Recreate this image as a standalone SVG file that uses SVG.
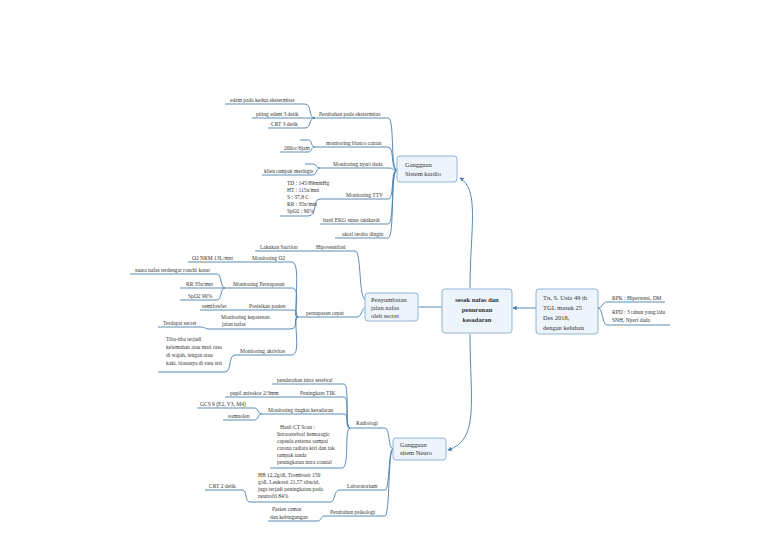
<svg xmlns="http://www.w3.org/2000/svg" width="768" height="543" viewBox="0 0 768 543">
<style>
text{font-family:"Liberation Serif",serif;font-size:5.5px;fill:#333}
.b{fill:#edf4fb;stroke:#8fb4d6;stroke-width:1}
.c{fill:none;stroke:#4a7fab;stroke-width:0.9}
.t{font-size:6.5px}
</style>
<defs><marker id="a" viewBox="0 0 6 6" refX="5" refY="3" markerWidth="5" markerHeight="5" orient="auto"><path d="M0,0L6,3L0,6z" fill="#4a7fab"/></marker></defs>
<rect width="768" height="543" fill="#fff"/>
<g id="connectors">
<path class="c" d="M470,288C470,230 480,190 460,178" marker-end="url(#a)"/>
<path class="c" d="M470,334C470,400 480,440 448,450" marker-end="url(#a)"/>
<path class="c" d="M536,308H513" marker-end="url(#a)"/>
<path class="c" d="M442,307H419"/>
<path class="c" d="M598,308C603,308 602,302 607,302H665M598,308C603,308 602,325 607,325H670"/>
<path class="c" d="M397,170C390,170 395,118 388,118H315M397,170C390,170 395,147 388,147H315M397,170C390,170 395,168 388,168H320M397,170C390,170 395,199 388,199H320M397,170C390,170 395,224 388,224H320M397,170C390,170 395,238 388,238H335"/>
<path class="c" d="M315,118C308,118 312,104 305,104H225M315,118H252M315,118C308,118 312,128 305,128H268"/>
<path class="c" d="M315,147C310,147 313,140 308,140H300M315,147C310,147 313,152 308,152H280"/>
<path class="c" d="M320,168C315,168 318,164 312,164H305M320,168C315,168 318,175 312,175H262"/>
<path class="c" d="M320,199C312,199 318,216 308,216H280"/>
<path class="c" d="M366,300C358,300 362,251 355,251H310"/>
<path class="c" d="M310,251H255"/>
<path class="c" d="M366,307C362,307 362,317 357,317H298"/>
<path class="c" d="M298,317C292,317 302,262 292,262H245M298,317C292,317 302,288 292,288H225M298,317C292,317 300,310 292,310H240M298,317C292,317 300,329 290,329H210M298,317C292,317 302,355 292,355H235"/>
<path class="c" d="M245,262H188"/>
<path class="c" d="M225,288C220,288 222,274 217,274H130M225,288H180M225,288C220,288 222,300 217,300H180"/>
<path class="c" d="M240,310H200"/>
<path class="c" d="M210,329C204,329 206,327 200,327H158"/>
<path class="c" d="M235,355C228,355 232,372 225,372H158"/>
<path class="c" d="M393,449C388,449 390,428 385,428H350M393,449C388,449 390,490 385,490H340M393,449C388,449 390,516 385,516H325"/>
<path class="c" d="M350,428C344,428 350,384 344,384H272M350,428C344,428 350,397 344,397H295M350,428C344,428 350,414 344,414H262M350,428C344,428 350,468 342,468H270"/>
<path class="c" d="M295,397H225"/>
<path class="c" d="M262,414C257,414 259,408 254,408H197M262,414C257,414 259,420 254,420H223"/>
<path class="c" d="M340,490C333,490 336,502 330,502H250"/>
<path class="c" d="M250,502C244,502 248,490 242,490H205"/>
<path class="c" d="M325,516C320,516 322,521 317,521H268"/>
</g>
<g id="center"><rect class="b" x="442" y="289" width="70" height="44" rx="3" stroke-width="1.8"/>
<text class="t" x="477" y="302" text-anchor="middle" font-weight="bold">sesak nafas dan</text>
<text class="t" x="477" y="312" text-anchor="middle" font-weight="bold">penurunan</text>
<text class="t" x="477" y="322" text-anchor="middle" font-weight="bold">kesadaran</text></g>
<g id="patient"><rect class="b" x="536" y="289" width="62" height="45" rx="3"/>
<text class="t" x="543" y="300">Tn, S. Usia 49 th</text><text class="t" x="543" y="310">TGL masuk 25</text><text class="t" x="543" y="320">Des 2018,</text><text class="t" x="543" y="330">dengan keluhan</text>
<text x="612" y="300">RPK : Hipertensi, DM</text><text x="612" y="314">RPD : 3 tahun yang lalu</text><text x="612" y="322">SNH, Nyeri dada</text></g>
<g id="kardio"><rect class="b" x="397" y="156" width="60" height="26" rx="3"/>
<text class="t" x="405" y="167">Gangguan</text><text class="t" x="405" y="176">Sistem kardio</text>
<text x="319" y="116">Perubahan pada ekstermitas</text>
<text x="230" y="102">edem pada kedua ekstermitas</text><text x="256" y="116">piting edem 3 detik</text><text x="271" y="126">CRT 3 detik</text>
<text x="326" y="145">monitoring blanco cairan</text><text x="284" y="150">200cc/6jam</text>
<text x="333" y="166">Monitoring nyari dada</text><text x="264" y="173">klien tampak meringis</text>
<text x="346" y="197">Monitoring TTV</text>
<text x="287" y="185">TD : 145/89mmHg</text><text x="287" y="192">HT : 115x/mnt</text><text x="287" y="199">S   : 37,8 C</text><text x="287" y="206">RR : 35x/mnt</text><text x="287" y="213">SpO2 : 90%</text>
<text x="323" y="222">hasil EKG sinus takikardi</text><text x="342" y="236">akral teraba dingin</text></g>
<g id="airway"><rect class="b" x="365" y="293" width="53" height="28" rx="3"/>
<text class="t" x="371" y="302">Penyumbatan</text><text class="t" x="371" y="310">jalan nafas</text><text class="t" x="371" y="318">oleh secret</text>
<text x="316" y="249">Hipoventilasi</text><text x="260" y="249">Lakukan Suction</text>
<text x="306" y="315">pernapasan cepat</text>
<text x="252" y="260">Monitoring O2</text><text x="192" y="260">O2 NRM 13L/mnt</text>
<text x="233" y="286">Monitoring Pernapasan</text><text x="135" y="272">suara nafas terdengar ronchi kasar</text><text x="186" y="286">RR 35x/mnt</text><text x="188" y="298">SpO2 90%</text>
<text x="249" y="308">Posisikan pasien</text><text x="202" y="308">semifowler</text>
<text x="221" y="319">Monitoring kepatenan</text><text x="222" y="326">jalan nafas</text><text x="163" y="325">Terdapat secret</text>
<text x="240" y="353">Monitoring aktivitas</text>
<text x="166" y="341">Tiba-tiba terjadi</text><text x="166" y="349">kelemahan atau mati rasa</text><text x="166" y="357">di wajah, lengan atau</text><text x="166" y="365">kaki, biasanya di satu sisi</text></g>
<g id="neuro"><rect class="b" x="393" y="438" width="53" height="22" rx="3"/>
<text class="t" x="400" y="447">Gangguan</text><text class="t" x="400" y="455">sitem Neuro</text>
<text x="356" y="425">Radiologi</text>
<text x="277" y="382">pendarahan intra serebral</text>
<text x="300" y="395">Peningkatn TIK</text><text x="230" y="395">pupil anisokor 2/3mm</text>
<text x="268" y="412">Monitoring tingkat kesadaran</text><text x="200" y="406">GCS 9 (E2, V3, M4)</text><text x="228" y="418">somnolen</text>
<text x="280" y="429">Hasil CT Scan :</text><text x="277" y="436">Intracerebral hemoragic</text><text x="277" y="443">capsula externa sampai</text><text x="277" y="450">carona radiata kiri dan tak</text><text x="277" y="457">tampak tanda</text><text x="277" y="464">peningkatan intra cranial</text>
<text x="347" y="488">Laboratorium</text>
<text x="258" y="477">HB 12,2g/dl, Trombosit 150</text><text x="258" y="484">g/dl, Leukosit 21,57 ribu/ul,</text><text x="258" y="491">juga terjadi peningkatan pada</text><text x="258" y="498">neutrofil 84%</text>
<text x="209" y="488">CRT 2 detik</text>
<text x="330" y="514">Perubahan psikologi</text><text x="272" y="511">Pasien cemas</text><text x="270" y="519">dan kebingungan</text></g>
</svg>
